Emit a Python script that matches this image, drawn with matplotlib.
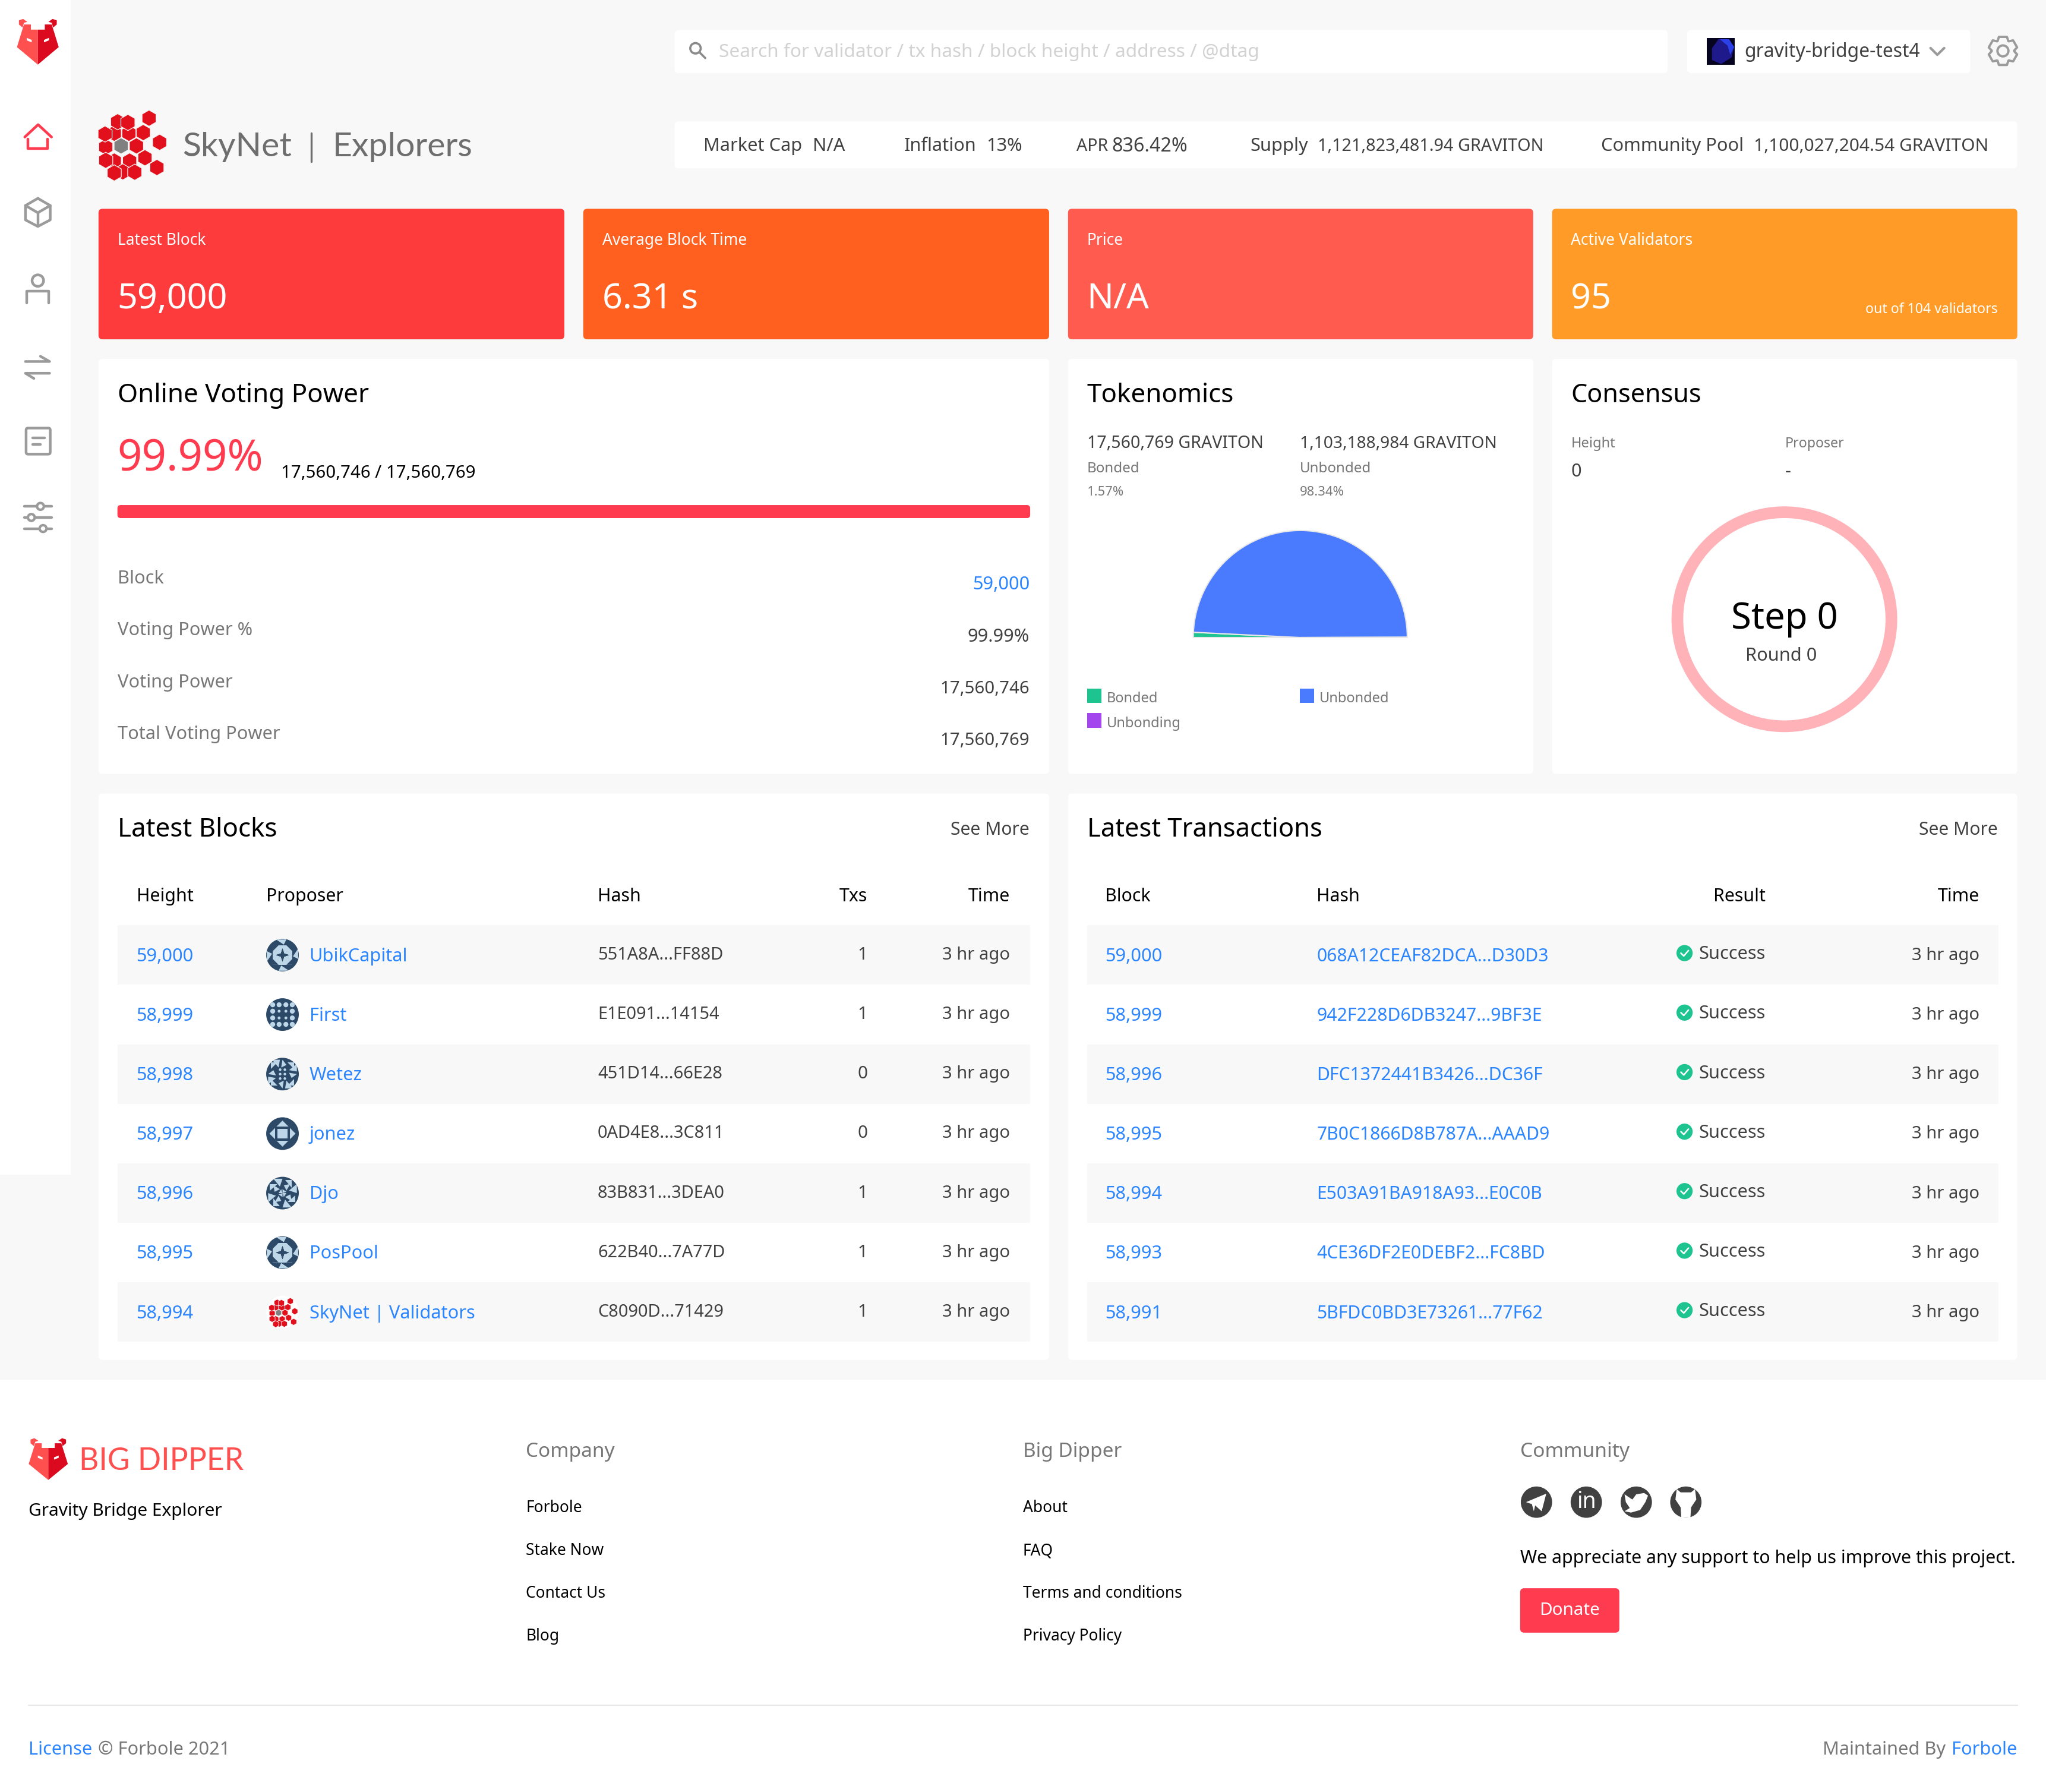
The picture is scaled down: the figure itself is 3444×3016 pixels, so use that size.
import numpy as np
import matplotlib
matplotlib.use('Agg')
from matplotlib import pyplot as plt
from matplotlib.patches import FancyBboxPatch, Rectangle, Circle, Polygon

plt.rcParams['font.family'] = ['Noto Sans', 'DejaVu Sans']

# donnees du tableau de bord
kpi_titles = ['Latest Block', 'Average Block Time', 'Price', 'Active Validators']
kpi_values = ['59,000', '6.31 s', 'N/A', '95']
stats_labels = ['Market Cap', 'Inflation', 'APR', 'Supply', 'Community Pool']
stats_values = ['N/A', '13%', '836.42%', '1,121,823,481.94 GRAVITON',
                '1,100,027,204.54 GRAVITON']

voting_power = 17560746
total_voting_power = 17560769
voting_pct = '99.99%'
vp_labels = ['Block', 'Voting Power %', 'Voting Power', 'Total Voting Power']
vp_values = ['59,000', '99.99%', '17,560,746', '17,560,769']

token_labels = ['Bonded', 'Unbonded', 'Unbonding']
token_shares = [1.57, 98.34, 0.09]

block_heights = ['59,000', '58,999', '58,998', '58,997', '58,996', '58,995', '58,994']
block_proposers = ['UbikCapital', 'First', 'Wetez', 'jonez', 'Djo', 'PosPool',
                   'SkyNet | Validators']
block_hashes = ['551A8A...FF88D', 'E1E091...14154', '451D14...66E28', '0AD4E8...3C811',
                '83B831...3DEA0', '622B40...7A77D', 'C8090D...71429']
block_txs = [1, 1, 0, 0, 1, 1, 1]

tx_blocks = ['59,000', '58,999', '58,996', '58,995', '58,994', '58,993', '58,991']
tx_hashes = ['068A12CEAF82DCA...D30D3', '942F228D6DB3247...9BF3E',
             'DFC1372441B3426...DC36F', '7B0C1866D8B787A...AAAD9',
             'E503A91BA918A93...E0C0B', '4CE36DF2E0DEBF2...FC8BD',
             '5BFDC0BD3E73261...77F62']

footer_company = ['Forbole', 'Stake Now', 'Contact Us', 'Blog']
footer_dipper = ['About', 'FAQ', 'Terms and conditions', 'Privacy Policy']

# couleurs
ROUGE = '#FF3B50'
BLEU = '#2A85FF'
GRIS = '#777777'
FONCE = '#414141'
FOND = '#F8F8F8'
PT = 1.581  # 1 px de la maquette en points

W, H = 1568.0, 1373.1
fig = plt.figure(figsize=(34.44, 30.16), dpi=100, facecolor=FOND)
ax = fig.add_axes([0, 0, 1, 1])
ax.set_xlim(0, W)
ax.set_ylim(H, 0)
ax.axis('off')


def txt(x, y, s, size=14, color='black', ha='left', **kw):
    dy = 2 + max(0, size - 14) * 0.11
    ax.text(x, y + dy, s, fontsize=size * PT, color=color, ha=ha, va='center', **kw)


def boite(x0, y0, x1, y1, color='white', r=3, z=1):
    ax.add_patch(FancyBboxPatch((x0, y0), x1 - x0, y1 - y0,
                                boxstyle='round,pad=0,rounding_size=%s' % r,
                                fc=color, ec='none', zorder=z))


def trait(xs, ys, color='#9B9B9B', lw=3.2, z=3):
    ax.plot(xs, ys, color=color, lw=lw, solid_capstyle='round',
            solid_joinstyle='round', zorder=z)


def ours(cx, top, w, h):
    # logo big dipper, demi gauche puis miroir
    tete = [(183, 335), (108, 250), (133, 140), (158, 140), (158, 165), (183, 165)]
    oreille = [(115, 120), (130, 113), (145, 127), (133, 132), (128, 155), (115, 140)]
    oeil = [(143, 205), (161, 215), (161, 227), (143, 217)]
    for sens, coul in ((1, '#FF5050'), (-1, '#DC0A1E')):
        for forme, c in ((tete, coul), (oreille, coul), (oeil, 'white')):
            pts = [(cx + sens * (px - 183) / 150 * w, top + (py - 113) / 222 * h)
                   for px, py in forme]
            ax.add_patch(Polygon(pts, fc=c, ec='none', zorder=4))


def hexagone(x, y, r, color='#E2101C', edge='#F4F4F4', lw=0.9):
    ang = np.radians(np.arange(30, 390, 60))
    ax.add_patch(Polygon(np.c_[x + r * np.cos(ang), y + r * np.sin(ang)], fc=color,
                         ec=edge, lw=lw, zorder=5))


def logo_skynet(x, y, k):
    # x, y : centre de l'hexagone gris
    cellules = [(400, 405), (378, 370), (335, 370), (310, 408), (335, 447), (380, 447),
                (425, 438), (420, 368), (345, 338), (375, 340), (308, 372), (310, 445),
                (360, 477), (395, 478), (335, 480), (468, 395), (437, 328), (460, 465)]
    for px, py in cellules:
        hexagone(x + (px - 355) / 3.826 * k, y + (py - 405) / 3.624 * k, 6.2 * k,
                 lw=0.9 * min(1, k * 1.6))
    hexagone(x, y, 6.2 * k, '#808080', lw=0.9 * min(1, k * 1.6))


def identicon(x, y, motif):
    sombre, clair = '#2C4A68', '#BDD6E8'
    disque = Circle((x, y), 12.5, fc=sombre, ec='none', zorder=4)
    ax.add_patch(disque)

    def forme(pts, c=clair, z=5):
        p = Polygon([(x + a, y + b) for a, b in pts], fc=c, ec='none', zorder=z)
        ax.add_patch(p)
        p.set_clip_path(disque)

    def quatre(pts, c=clair, z=5):
        # motif repete par rotation d'un quart de tour
        for _ in range(4):
            forme(pts, c, z)
            pts = [(-b, a) for a, b in pts]

    if motif == 'points':
        for i in (-7.5, -2.6, 2.6, 7.5):
            for j in (-7.5, -2.6, 2.6, 7.5):
                r = 1.1 if abs(i) < 3 and abs(j) < 3 else 1.9
                if i * i + j * j < 130:
                    ax.add_patch(Circle((x + i, y + j), r, fc=clair, ec='none', zorder=5))
        forme([(-1.2, -1.2), (1.2, -1.2), (1.2, 1.2), (-1.2, 1.2)], sombre)
    elif motif == 'losange':
        forme([(0, -10), (10, 0), (0, 10), (-10, 0)])
        forme([(-5.5, -5.5), (5.5, -5.5), (5.5, 5.5), (-5.5, 5.5)], sombre, 6)
        forme([(-3.8, -3.8), (3.8, -3.8), (3.8, 3.8), (-3.8, 3.8)], clair, 7)
        quatre([(-12, -11), (-7, -11), (-12, -6)])
    elif motif == 'etoile':
        forme([(-7.5, -7.5), (7.5, -7.5), (7.5, 7.5), (-7.5, 7.5)])
        quatre([(0, -5), (1.2, -1.2), (5, 0), (1.2, 1.2), (0, 5), (-1.2, 1.2), (-5, 0),
                (-1.2, -1.2)], sombre, 6)
        quatre([(-7.5, -7.5), (-3, -7.5), (-7.5, -3)], sombre, 6)
        quatre([(-5, -12), (3, -12), (1, -8)])
    elif motif == 'points_tri':
        quatre([(-8, -11), (-2, -11), (-3, -5)])
        quatre([(4, -9), (9, -9), (9, -4)])
        quatre([(-7, -3), (-11, 0), (-5, 1)])
        for i in (-1.8, 1.8):
            for j in (-3.4, 0, 3.4):
                ax.add_patch(Circle((x + i, y + j), 1.0, fc=clair, ec='none', zorder=5))
    else:
        quatre([(-7, -11), (0, -11), (-2, -5)])
        quatre([(2, -10), (7, -10), (7, -4)])
        quatre([(-7, -6), (-2, -3), (-6, -1)])
        quatre([(0, -3), (3, -1), (0, 0)])


def engrenage(x, y, r_ext, r_int, dents, color='#9B9B9B', lw=2.8):
    pas = 2 * np.pi / dents
    pts = []
    for i in range(dents):
        a = i * pas - np.pi / 2
        for da, r in ((-0.5, r_int), (-0.28, r_ext), (0.28, r_ext), (0.5, r_int)):
            pts.append((x + r * np.cos(a + da * pas * 0.95), y + r * np.sin(a + da * pas * 0.95)))
    ax.add_patch(Polygon(pts, fc='none', ec=color, lw=lw, joinstyle='round', zorder=3))
    ax.add_patch(Circle((x, y), 4.2, fc='none', ec=color, lw=lw, zorder=3))


# fonds
ax.add_patch(Rectangle((0, 0), 54, 900, fc='white', ec='none', zorder=0))
ax.add_patch(Rectangle((0, 1057), W, H - 1057, fc='white', ec='none', zorder=0))

# barre laterale
ours(29, 14.5, 32, 35)
trait([19, 29.2, 39.5], [105, 95.5, 105], ROUGE)
trait([21.5, 21.5, 36.5, 36.5], [106.5, 114, 114, 106.5], ROUGE)
trait([29, 38.5, 38.5, 29, 19.5, 19.5, 29], [152, 157.5, 168.5, 173.5, 168.5, 157.5, 152])
trait([19.5, 29, 38.5], [157.5, 163, 157.5])
trait([29, 29], [163, 173.5])
ax.add_patch(Circle((29, 215), 4.4, fc='none', ec='#9B9B9B', lw=3.2, zorder=3))
trait([20.5, 20.5, 37.5, 37.5], [232, 223, 223, 232])
trait([19.5, 38, 31], [277, 277, 273])
trait([38, 19.5, 26], [286, 286, 290])
ax.add_patch(FancyBboxPatch((20, 328), 18.5, 20, boxstyle='round,pad=0,rounding_size=1.5',
                            fc='none', ec='#9B9B9B', lw=3.2, zorder=3))
trait([25, 34], [335.5, 335.5])
trait([25, 31], [340.5, 340.5])
for yy, xc in ((388, 31), (396.5, 24), (405, 33)):
    trait([18.5, 39.5], [yy, yy])
    ax.add_patch(Circle((xc, yy), 2.6, fc='white', ec='#9B9B9B', lw=3.0, zorder=4))

# recherche et reseau
boite(517, 23, 1278, 56)
ax.add_patch(Circle((533, 37), 4, fc='none', ec='#8A8A8A', lw=2.6, zorder=3))
trait([536, 540.5], [40, 44.5], '#8A8A8A', 2.6)
txt(551, 38, 'Search for validator / tx hash / block height / address / @dtag', 14.4, '#D2D2D2')
boite(1293, 23, 1510, 56)
ax.add_patch(Rectangle((1308, 29), 21.5, 20.5, fc='#070420', ec='none', zorder=3))
ax.add_patch(Polygon([(1312, 37), (1317, 30), (1325, 30), (1329, 36), (1327, 44), (1319, 49),
                      (1312, 46)], fc='#1E1A8C', ec='none', zorder=4))
ax.add_patch(Polygon([(1318, 30), (1325, 30), (1329, 36), (1326, 42), (1324, 35)], fc='#2B40E6',
                     ec='none', zorder=5))
txt(1337, 38, 'gravity-bridge-test4', 14.5, FONCE)
trait([1479.5, 1484.7, 1490], [36.8, 42, 36.8], '#9B9B9B', 3.0)
engrenage(1535, 39, 11.2, 8.6, 6)

# logo et bandeau
logo_skynet(92.8, 111.8, 1.0)
txt(140, 109.5, 'SkyNet', 26, '#6E6E6E', family='Lato')
trait([238.5, 238.5], [102, 124], '#6E6E6E', 2.4)
txt(255, 109.5, 'Explorers', 26, '#6E6E6E', family='Lato')
boite(517, 93, 1546, 129)
stats_tailles = [14, 14, 14.7, 13.1, 13.6]
for x, xv, lab, val, t in zip([539, 693, 825, 958, 1227], [623, 756, 852, 1010, 1344],
                              stats_labels, stats_values, stats_tailles):
    txt(x, 110, lab, 13 if lab == 'APR' else 14, FONCE)
    txt(xv, 110, val, t, FONCE)

# cartes kpi
kpi_x = [(75.5, 432.5), (447, 804), (818.5, 1175), (1189.5, 1546)]
kpi_col = ['#FD3B3C', '#FF5F1F', '#FF5B4F', '#FF9B26']
for (x0, x1), c, titre, val in zip(kpi_x, kpi_col, kpi_titles, kpi_values):
    boite(x0, 160, x1, 260, c)
    txt(x0 + 14.5, 182.5, titre, 12, 'white')
    txt(x0 + 14.5, 226, val, 27, 'white')
txt(1531, 235, 'out of 104 validators', 10.5, 'white', ha='right')

# cartes centrales
for x0, x1 in ((75.5, 804), (818.5, 1175), (1189.5, 1546)):
    boite(x0, 275, x1, 593)
txt(90, 300.5, 'Online Voting Power', 20)
txt(90, 347.5, voting_pct, 33, ROUGE)
txt(215.5, 360.5, '{:,} / {:,}'.format(voting_power, total_voting_power), 13.4)
bar_x0, bar_x1 = 90, 789.5
boite(bar_x0, 387, bar_x0 + (bar_x1 - bar_x0) * voting_power / total_voting_power, 397, ROUGE, r=2.5)
for i, (lab, val) in enumerate(zip(vp_labels, vp_values)):
    txt(90, 441.5 + i * 39.7, lab, 14, GRIS)
    txt(789, 446 + i * 39.9, val, 14 if i < 2 else 13.4, BLEU if i == 0 else FONCE, ha='right')

txt(833, 300.5, 'Tokenomics', 20)
txt(833, 338, '17,560,769 GRAVITON', 13.0, FONCE)
txt(996, 338, '1,103,188,984 GRAVITON', 12.8, FONCE)
txt(833, 357, 'Bonded', 11, GRIS)
txt(996, 357, 'Unbonded', 11, GRIS)
txt(833, 375, '1.57%', 10, GRIS)
txt(996, 375, '98.34%', 10, GRIS)

# camembert en demi cercle: la moitie cachee complete le tour
token_col = ['#1EC490', '#4A7BFF', '#A346EE']
cx, cy, rayon = 996.5, 488.5, 82.0
ax_pie = fig.add_axes([(cx - rayon - 2) / W, 1 - (cy + rayon + 2) / H,
                       (2 * rayon + 4) / W, (2 * rayon + 4) / H])
ax_pie.patch.set_alpha(0)
parts, _ = ax_pie.pie(token_shares + [sum(token_shares)], colors=token_col + ['white'],
                      startangle=180, counterclock=False, radius=1.0,
                      wedgeprops={'edgecolor': '#E8E8E8', 'linewidth': 1.5})
parts[-1].set_visible(False)
ax_pie.set_xlim(-1 - 2 / rayon, 1 + 2 / rayon)
ax_pie.set_ylim(-1 - 2 / rayon, 1 + 2 / rayon)

for (x, y), lab, c in zip([(833, 533), (996, 533), (833, 552)], token_labels, token_col):
    ax.add_patch(Rectangle((x, y - 5.5), 11, 11, fc=c, ec='none', zorder=3))
    txt(x + 15, y + 0.5, lab, 10.8, GRIS)

txt(1204, 300.5, 'Consensus', 19.6)
txt(1204, 338, 'Height', 10.8, GRIS)
txt(1368, 338, 'Proposer', 10.6, GRIS)
txt(1204, 359.5, '0', 14, FONCE)
txt(1368, 359.5, '-', 14, FONCE)
ax.add_patch(Circle((1367.5, 474.5), 82, fc='white', ec='#FFB3B8', lw=14.2, zorder=3))
txt(1367.5, 471, 'Step 0', 28, ha='center', zorder=4)
txt(1365, 500.5, 'Round 0', 14, FONCE, ha='center', zorder=4)

# tableaux
boite(75.5, 608, 804, 1042)
boite(818.5, 608, 1546, 1042)
ROW0, ROWH = 709.0, 45.6
txt(90, 633.5, 'Latest Blocks', 20)
txt(789, 634, 'See More', 13.7, FONCE, ha='right')
txt(833, 633.5, 'Latest Transactions', 19.8)
txt(1531, 634, 'See More', 13.7, FONCE, ha='right')
for x, s, ha in ((104.5, 'Height', 'left'), (204, 'Proposer', 'left'), (458, 'Hash', 'left'),
                 (665, 'Txs', 'right'), (774, 'Time', 'right'), (847, 'Block', 'left'),
                 (1009, 'Hash', 'left'), (1353, 'Result', 'right'), (1517, 'Time', 'right')):
    txt(x, 685, s, 13.8, ha=ha)

motifs = ['etoile', 'points', 'points_tri', 'losange', 'tri', 'etoile', None]
for i in range(7):
    y = ROW0 + (i + 0.5) * ROWH
    if i % 2 == 0:
        ax.add_patch(Rectangle((90, y - ROWH / 2), 699.5, ROWH, fc=FOND, ec='none', zorder=2))
        ax.add_patch(Rectangle((833, y - ROWH / 2), 698.5, ROWH, fc=FOND, ec='none', zorder=2))
    txt(104.5, y - 1, block_heights[i], 14, BLEU)
    if motifs[i] is None:
        ax.add_patch(Circle((216.5, y), 12.5, fc='white', ec='none', zorder=4))
        logo_skynet(213.5, y + 0.5, 0.42)
    else:
        identicon(216.5, y, motifs[i])
    txt(237, y - 1, block_proposers[i], 14, BLEU)
    txt(458, y - 2, block_hashes[i], 13.2, FONCE)
    txt(665, y - 2, str(block_txs[i]), 13.5, FONCE, ha='right')
    txt(774, y - 2, '3 hr ago', 13.3, FONCE, ha='right')

    txt(847, y - 1, tx_blocks[i], 14, BLEU)
    txt(1009, y - 1, tx_hashes[i], 13.7, BLEU)
    ax.add_patch(Circle((1291, y - 1.5), 6.2, fc='#1EC490', ec='none', zorder=4))
    trait([1288.2, 1290.4, 1294], [y - 1.5, y + 0.7, y - 3.5], 'white', 1.8, z=5)
    txt(1302, y - 2.5, 'Success', 14, FONCE)
    txt(1517, y - 1.5, '3 hr ago', 13.3, FONCE, ha='right')

# pied de page
ours(37, 1102, 30, 32)
txt(60.5, 1116.5, 'BIG DIPPER', 23.5, '#FF5050', family='Lato')
txt(22, 1156, 'Gravity Bridge Explorer', 13.6)
txt(403, 1110.5, 'Company', 15.2, GRIS)
txt(784, 1110.5, 'Big Dipper', 15.2, GRIS)
txt(1165, 1110.5, 'Community', 15.3, GRIS)
for i, (a, b) in enumerate(zip(footer_company, footer_dipper)):
    txt(403, 1153.5 + i * 32.8, a, 12)
    txt(784, 1153.5 + i * 32.8, b, 12)

for x in (1177.5, 1215.7, 1254, 1292):
    ax.add_patch(Circle((x, 1151), 12, fc=FONCE, ec='none', zorder=3))
ax.add_patch(Polygon([(1169.5, 1151), (1185, 1144.5), (1181.5, 1158), (1176.5, 1153.5),
                      (1175.5, 1158), (1174, 1152.5)], fc='white', ec='none', zorder=4))
txt(1215.7, 1148.5, 'in', 17, 'white', ha='center', fontweight='bold', zorder=4)
ax.add_patch(Polygon([(1245, 1145), (1251, 1149), (1254, 1145), (1260, 1144), (1263, 1146),
                      (1261, 1151), (1257, 1157), (1250, 1159), (1245, 1158), (1249, 1155.5),
                      (1246, 1151)], fc='white', ec='none', zorder=4))
ax.add_patch(Polygon([(1285, 1141), (1288, 1143.5), (1296, 1143.5), (1299, 1141), (1300, 1149),
                      (1296, 1155), (1295.5, 1163), (1288.5, 1163), (1288, 1155), (1284, 1149)],
                     fc='white', ec='none', zorder=4))
txt(1165, 1192, 'We appreciate any support to help us improve this project.', 13.8)
boite(1165, 1217, 1241, 1251, ROUGE)
txt(1203, 1232, 'Donate', 13.5, 'white', ha='center', zorder=4)
trait([22, 1546], [1306.5, 1306.5], '#E8E8E8', 1.6, z=1)
txt(22, 1339, 'License', 14, BLEU)
txt(75, 1339, '© Forbole 2021', 14, GRIS)
txt(1491, 1339, 'Maintained By', 14, GRIS, ha='right')
txt(1546, 1339, 'Forbole', 14, BLEU, ha='right')

fig.savefig('out.png', dpi=100, facecolor=FOND)
